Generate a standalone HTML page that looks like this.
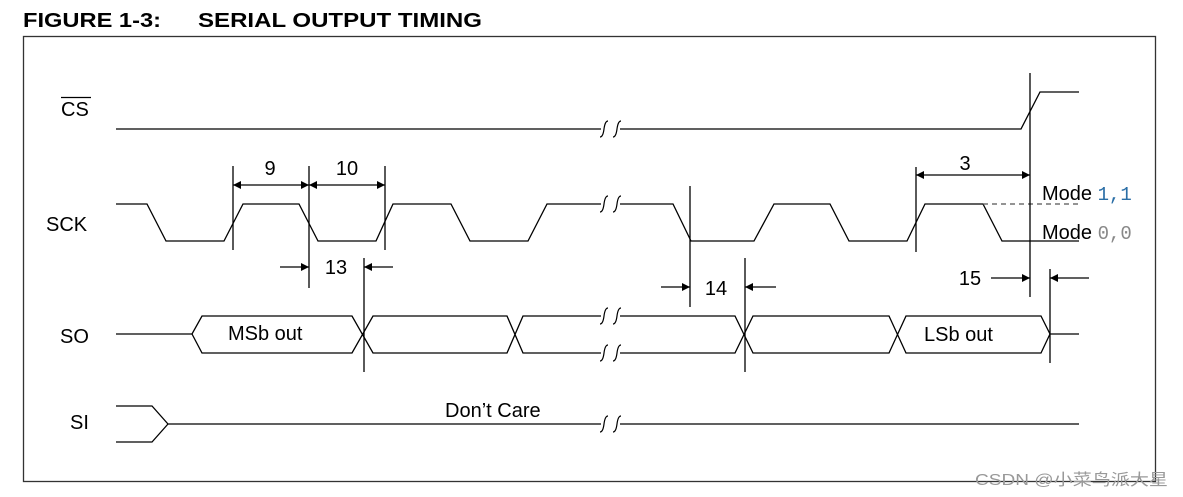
<!DOCTYPE html>
<html><head><meta charset="utf-8"><style>
html,body{margin:0;padding:0;background:#fff;}
svg{display:block;}
text{font-family:"Liberation Sans",Arial,sans-serif;fill:#000;}
</style></head><body>
<svg width="1183" height="497" viewBox="0 0 1183 497" xmlns="http://www.w3.org/2000/svg">
<defs>
<marker id="ah" viewBox="0 0 10 10" refX="10" refY="5" markerWidth="13" markerHeight="8" markerUnits="userSpaceOnUse" orient="auto-start-reverse"><path d="M0,0 L10,5 L0,10 z" fill="#000"/></marker>
</defs>
<text x="23" y="27" font-size="20" font-weight="bold" textLength="138" lengthAdjust="spacingAndGlyphs">FIGURE 1-3:</text>
<text x="198" y="27" font-size="20" font-weight="bold" textLength="284" lengthAdjust="spacingAndGlyphs">SERIAL OUTPUT TIMING</text>
<rect x="23.5" y="36.5" width="1132" height="445" fill="none" stroke="#333" stroke-width="1.3"/>

<g font-size="20">
<text x="61" y="116">CS</text>
<line x1="61" y1="97.5" x2="91" y2="97.5" stroke="#000" stroke-width="1.2"/>
<text x="46" y="231">SCK</text>
<text x="60" y="343">SO</text>
<text x="70" y="429">SI</text>
</g>

<g fill="none" stroke="#000" stroke-width="1.3">
<polyline points="116,129 601,129"/>
<polyline points="620,129 1021,129 1040,92 1079,92"/>
<polyline points="116,204 147,204 166,241 224,241 243,204 299,204 318,241 376,241 393,204 451,204 470,241 528,241 547,204 601,204"/>
<polyline points="620,204 673,204 691,241 754,241 774,204 830,204 849,241 907,241 925,204 983,204 1002,241 1079,241"/>
<line x1="983" y1="204" x2="1079" y2="204" stroke-dasharray="5,4" stroke="#555"/>
<polyline points="116,334 192,334 202,316 352,316 373,353 507,353 523,316 601,316"/>
<polyline points="192,334 202,353 352,353 373,316 507,316 523,353 601,353"/>
<polyline points="620,316 735,316 753,353 889,353 906,316 1041,316 1050,334 1079,334"/>
<polyline points="620,353 735,353 753,316 889,316 906,353 1041,353 1050,334"/>
<polyline points="116,406 152,406 168,424 601,424"/>
<polyline points="116,442 152,442 168,424"/>
<polyline points="620,424 1079,424"/>

<line x1="233" y1="166" x2="233" y2="250"/>
<line x1="309" y1="166" x2="309" y2="288"/>
<line x1="385" y1="166" x2="385" y2="250"/>
<line x1="364" y1="258" x2="364" y2="372"/>
<line x1="690" y1="186" x2="690" y2="307"/>
<line x1="745" y1="258" x2="745" y2="372"/>
<line x1="916" y1="167" x2="916" y2="252"/>
<line x1="1030" y1="73" x2="1030" y2="297"/>
<line x1="1050" y1="269" x2="1050" y2="363"/>

<line x1="233" y1="185" x2="309" y2="185" marker-start="url(#ah)" marker-end="url(#ah)"/>
<line x1="309" y1="185" x2="385" y2="185" marker-start="url(#ah)" marker-end="url(#ah)"/>
<line x1="280" y1="267" x2="309" y2="267" marker-end="url(#ah)"/>
<line x1="393" y1="267" x2="364" y2="267" marker-end="url(#ah)"/>
<line x1="661" y1="287" x2="690" y2="287" marker-end="url(#ah)"/>
<line x1="776" y1="287" x2="745" y2="287" marker-end="url(#ah)"/>
<line x1="916" y1="175" x2="1030" y2="175" marker-start="url(#ah)" marker-end="url(#ah)"/>
<line x1="991" y1="278" x2="1030" y2="278" marker-end="url(#ah)"/>
<line x1="1089" y1="278" x2="1050" y2="278" marker-end="url(#ah)"/>
</g>

<g fill="none" stroke="#000" stroke-width="1.2">
<g id="brk"><path d="M600,137 Q603,137 604,129 Q605,121 608,121"/><path d="M613,137 Q616,137 617,129 Q618,121 621,121"/></g>
<use href="#brk" transform="translate(0,75)"/>
<use href="#brk" transform="translate(0,187)"/>
<use href="#brk" transform="translate(0,224)"/>
<use href="#brk" transform="translate(0,295)"/>
</g>

<g font-size="20">
<text x="270" y="175" text-anchor="middle">9</text>
<text x="347" y="175" text-anchor="middle">10</text>
<text x="336" y="274" text-anchor="middle">13</text>
<text x="716" y="295" text-anchor="middle">14</text>
<text x="965" y="170" text-anchor="middle">3</text>
<text x="970" y="285" text-anchor="middle">15</text>
<text x="228" y="340">MSb out</text>
<text x="924" y="341">LSb out</text>
<text x="445" y="417">Don’t Care</text>
<text x="1042" y="200">Mode <tspan font-family="Liberation Mono,monospace" fill="#2a6ea6" font-size="19">1,1</tspan></text>
<text x="1042" y="239">Mode <tspan font-family="Liberation Mono,monospace" fill="#888" font-size="19">0,0</tspan></text>
</g>
<text x="975" y="485" font-size="16" textLength="193" lengthAdjust="spacingAndGlyphs" style="fill:#999" font-family="Liberation Sans,'Noto Sans CJK SC',sans-serif">CSDN @小菜鸟派大星</text>
</svg>
</body></html>
